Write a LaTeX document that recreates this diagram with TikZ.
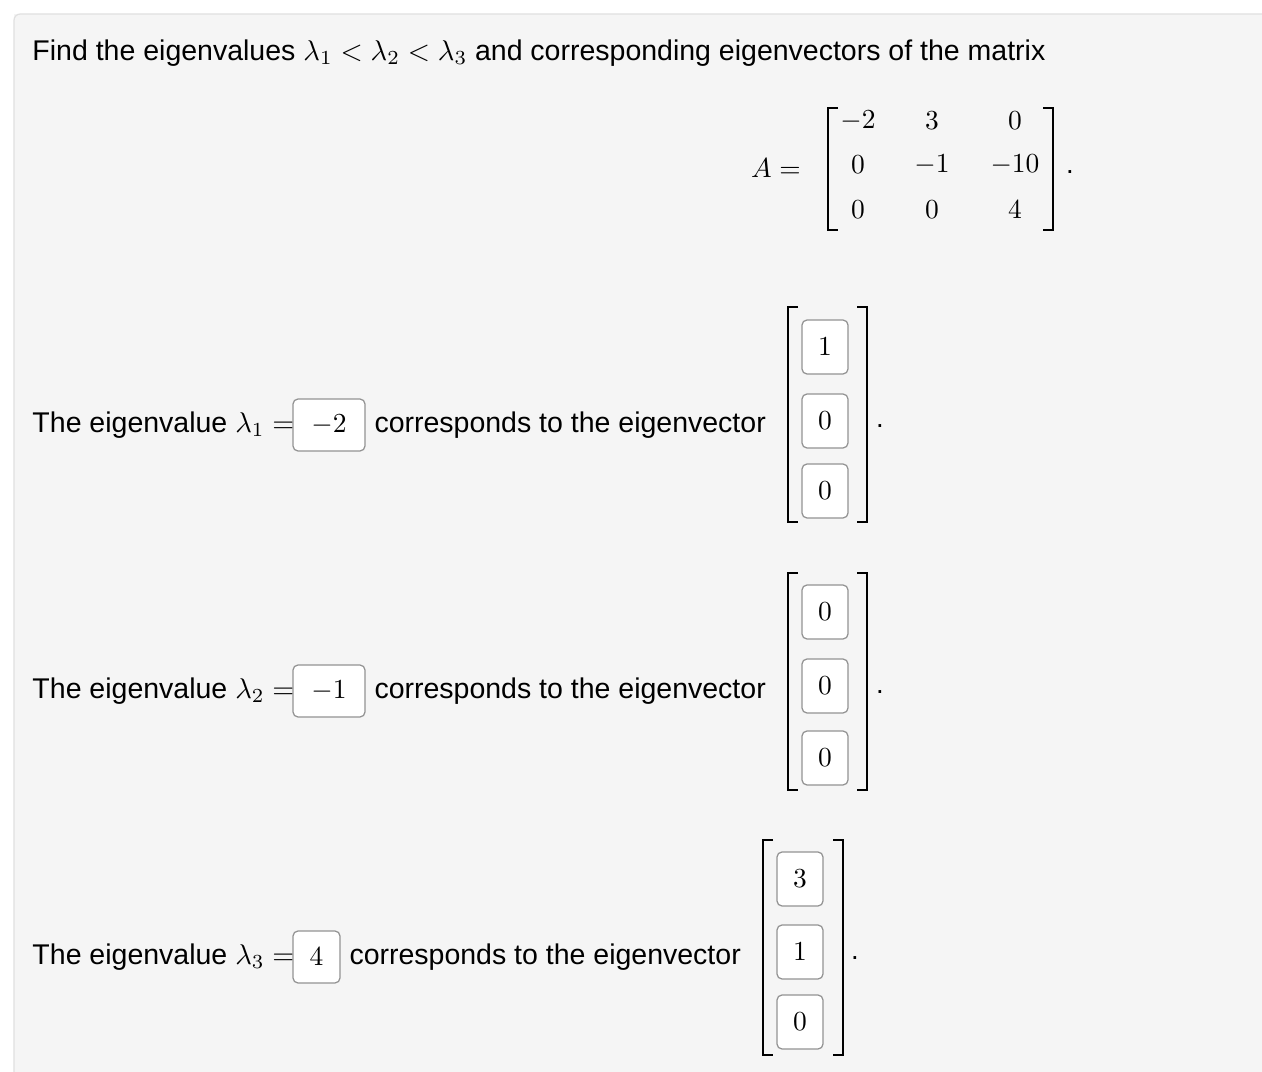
\documentclass[tikz,border=0pt]{standalone}
\usepackage{fix-cm}
\usepackage{fontspec}
\setmainfont{Liberation Sans}
\usepackage{amsmath}
\begin{document}
\begin{tikzpicture}[x=0.4pt,y=-0.4pt,
  txt/.style={anchor=west,inner sep=0pt,font=\fontsize{11.4}{13}\selectfont},
  mth/.style={inner sep=0pt,font=\fontsize{11}{13}\selectfont},
  ansbox/.style={draw=gray!85,fill=white,rounded corners=2pt,line width=0.5pt,minimum height=20.8pt,inner sep=0pt,font=\fontsize{11}{13}\selectfont},
  vbox/.style={ansbox,minimum width=18.4pt,minimum height=21.6pt},
  brk/.style={line width=0.9pt}]
\useasboundingbox (0,0) rectangle (1262,1072);
\fill[white] (0,0) rectangle (1262,1072);
\fill[black!4] (14,14) rectangle (1262,1072);
\draw[draw=black!12,line width=0.5pt,rounded corners=2.5pt] (14,1100) -- (14,14) -- (1300,14);
% title
\node[txt] (title) at (32,53) {Find the eigenvalues $\lambda_1<\lambda_2<\lambda_3$ and corresponding eigenvectors of the matrix};
% matrix A
\node[mth] (Aeq) at (776,168) {$A=$};
\node[mth] (a11) at (858,121) {$-2$};
\node[mth] (a12) at (932,121) {$3$};
\node[mth] (a13) at (1015,121) {$0$};
\node[mth] (a21) at (858,165) {$0$};
\node[mth] (a22) at (932,165) {$-1$};
\node[mth] (a23) at (1015,165) {$-10$};
\node[mth] (a31) at (858,210) {$0$};
\node[mth] (a32) at (932,210) {$0$};
\node[mth] (a33) at (1015,210) {$4$};
\draw[brk] (838,108) -- (828,108) -- (828,230) -- (838,230);
\draw[brk] (1043,108) -- (1053,108) -- (1053,230) -- (1043,230);
\node[mth] (Adot) at (1070,172) {.};
% row 1
\node[txt] (t1) at (32,425) {The eigenvalue $\lambda_1=$};
\node[ansbox,minimum width=28.8pt] (b1) at (329,425) {$-2$};
\node[txt] (c1) at (374,425) {corresponds to the eigenvector};
\node[vbox] (v11) at (825,347) {$1$};
\node[vbox] (v12) at (825,421) {$0$};
\node[vbox] (v13) at (825,491) {$0$};
\draw[brk] (798,307) -- (788,307) -- (788,522) -- (798,522);
\draw[brk] (857,307) -- (867,307) -- (867,522) -- (857,522);
\node[mth] (d1) at (880,426) {.};
% row 2
\node[txt] (t2) at (32,691) {The eigenvalue $\lambda_2=$};
\node[ansbox,minimum width=28.8pt] (b2) at (329,691) {$-1$};
\node[txt] (c2) at (374,691) {corresponds to the eigenvector};
\node[vbox] (v21) at (825,612) {$0$};
\node[vbox] (v22) at (825,686) {$0$};
\node[vbox] (v23) at (825,758) {$0$};
\draw[brk] (798,573) -- (788,573) -- (788,790) -- (798,790);
\draw[brk] (857,573) -- (867,573) -- (867,790) -- (857,790);
\node[mth] (d2) at (880,692) {.};
% row 3
\node[txt] (t3) at (32,957) {The eigenvalue $\lambda_3=$};
\node[ansbox,minimum width=18.8pt] (b3) at (316.5,957) {$4$};
\node[txt] (c3) at (349,957) {corresponds to the eigenvector};
\node[vbox] (v31) at (800,879) {$3$};
\node[vbox] (v32) at (800,952) {$1$};
\node[vbox] (v33) at (800,1022) {$0$};
\draw[brk] (773,840) -- (763,840) -- (763,1055) -- (773,1055);
\draw[brk] (833,840) -- (843,840) -- (843,1055) -- (833,1055);
\node[mth] (d3) at (855,958) {.};
\end{tikzpicture}
\end{document}
